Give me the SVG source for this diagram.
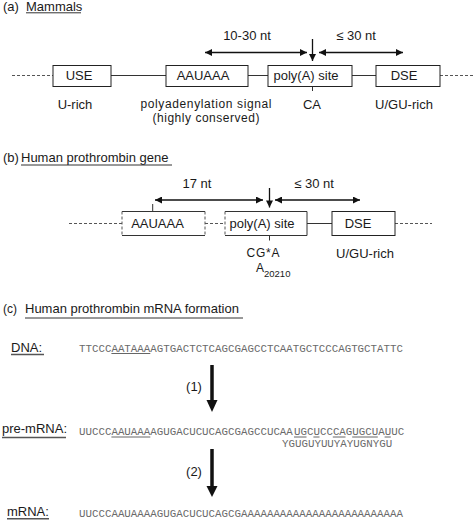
<svg xmlns="http://www.w3.org/2000/svg" width="474" height="520" viewBox="0 0 474 520">
<defs>
<marker id="ah" viewBox="0 0 10 10" refX="10" refY="5" markerWidth="8" markerHeight="7" markerUnits="userSpaceOnUse" orient="auto-start-reverse"><path d="M0,0 L10,5 L0,10 z" fill="#111"/></marker>
</defs>
<style>
.t{font-family:"Liberation Sans",Arial,sans-serif;font-size:13px;fill:#1a1a1a}
.s{font-size:12px}
.m{text-anchor:middle}
.sub{font-size:9.5px}
.seq{font-family:"Liberation Mono","Courier New",monospace;font-size:10.8px;fill:#6a6a6a}
.box{fill:#fff;stroke:#222;stroke-width:1}
.ln{stroke:#333;stroke-width:1;fill:none}
.dash{stroke:#555;stroke-width:1;stroke-dasharray:3,2;fill:none}
.ar{stroke:#111;stroke-width:1.3;fill:none;marker-end:url(#ah)}
.dbl{marker-start:url(#ah)}
.ul{stroke:#333;stroke-width:1}
.lul{stroke:#555;stroke-width:1.6}
.sul{stroke:#666;stroke-width:1}
.big{stroke:#111;stroke-width:3.5}
</style>
<rect width="474" height="520" fill="#fff"/>

<!-- Section (a) -->
<g id="titleA">
<text x="3" y="11" class="t">(a)</text>
<text x="26" y="11" class="t">Mammals</text>
<line x1="26" y1="12.8" x2="81" y2="12.8" class="ul"/>
</g>
<g id="connectorsA">
<line x1="12" y1="75.5" x2="53" y2="75.5" class="dash"/>
<line x1="111" y1="75.5" x2="166" y2="75.5" class="ln"/>
<line x1="248" y1="75.5" x2="268" y2="75.5" class="ln"/>
<line x1="352" y1="75.5" x2="376" y2="75.5" class="ln"/>
<line x1="440" y1="75.5" x2="474" y2="75.5" class="dash"/>
<line x1="205" y1="52.5" x2="307" y2="52.5" class="ar dbl"/>
<line x1="312.5" y1="39" x2="312.5" y2="61" class="ar"/>
<line x1="319" y1="52.5" x2="403" y2="52.5" class="ar dbl"/>
<line x1="312.5" y1="86.5" x2="312.5" y2="91" class="ln"/>
</g>
<g id="USE">
<rect x="53" y="65.5" width="58" height="21" class="box"/>
<text x="79" y="80" class="t m">USE</text>
<text x="75" y="108.5" class="t m">U-rich</text>
</g>
<g id="AAUAAA_a">
<rect x="166" y="65.5" width="82" height="21" class="box"/>
<text x="203" y="80" class="t m">AAUAAA</text>
<text x="206" y="108" class="t s m" textLength="131">polyadenylation signal</text>
<text x="206" y="122" class="t s m" textLength="107">(highly conserved)</text>
</g>
<g id="polyA_a">
<rect x="268" y="65.5" width="84" height="21" class="box"/>
<text x="306" y="80" class="t m">poly(A) site</text>
<text x="312" y="108.5" class="t m">CA</text>
</g>
<g id="DSE_a">
<rect x="376" y="65.5" width="64" height="21" class="box"/>
<text x="404" y="80" class="t m">DSE</text>
<text x="404" y="108.5" class="t m">U/GU-rich</text>
</g>
<g id="labelsA">
<text x="247" y="39.5" class="t m">10-30 nt</text>
<text x="356" y="39.5" class="t m">≤ 30 nt</text>
</g>

<!-- Section (b) -->
<g id="titleB">
<text x="3" y="162" class="t">(b)</text>
<text x="21" y="162" class="t">Human prothrombin gene</text>
<line x1="21" y1="165" x2="172" y2="165" class="ul"/>
</g>
<g id="connectorsB">
<line x1="69" y1="223.5" x2="122" y2="223.5" class="dash"/>
<line x1="205" y1="223.5" x2="225" y2="223.5" class="dash"/>
<line x1="307" y1="223.5" x2="332" y2="223.5" class="ln"/>
<line x1="395" y1="223.5" x2="432" y2="223.5" class="dash"/>
<line x1="152.7" y1="204" x2="152.7" y2="211.5" class="ln"/>
<line x1="155" y1="200" x2="263" y2="200" class="ar dbl"/>
<line x1="269.5" y1="188" x2="269.5" y2="207.5" class="ar"/>
<line x1="275" y1="200" x2="360" y2="200" class="ar dbl"/>
<line x1="269.5" y1="235.5" x2="269.5" y2="240.5" class="ln"/>
</g>
<g id="AAUAAA_b">
<rect x="122" y="211.5" width="83" height="24" fill="#fff"/>
<line x1="122" y1="211.5" x2="205" y2="211.5" class="ln"/>
<line x1="122" y1="235.5" x2="205" y2="235.5" class="ln"/>
<line x1="122" y1="211.5" x2="122" y2="235.5" class="dash"/>
<line x1="205" y1="211.5" x2="205" y2="235.5" class="dash"/>
<text x="157.5" y="228" class="t m">AAUAAA</text>
</g>
<g id="polyA_b">
<rect x="225" y="211.5" width="82" height="24" fill="#fff"/>
<path d="M225,211.5 H307 V235.5 H225" class="ln"/>
<line x1="225" y1="211.5" x2="225" y2="235.5" class="dash"/>
<text x="262" y="228" class="t m">poly(A) site</text>
<text x="263" y="257" class="t s m" textLength="33">CG*A</text>
<text x="256" y="271.5" class="t s">A<tspan class="sub" dy="5">20210</tspan></text>
</g>
<g id="DSE_b">
<rect x="332" y="211.5" width="63" height="24" class="box"/>
<text x="358" y="228" class="t m">DSE</text>
<text x="365" y="257.5" class="t m">U/GU-rich</text>
</g>
<g id="labelsB">
<text x="197" y="187.5" class="t m">17 nt</text>
<text x="314" y="187.5" class="t m">≤ 30 nt</text>
</g>

<!-- Section (c) -->
<g id="titleC">
<text x="3" y="313" class="t" style="font-size:12px">(c)</text>
<text x="25" y="313" class="t">Human prothrombin mRNA formation</text>
<line x1="25" y1="318" x2="243" y2="318" class="ul"/>
</g>
<g id="DNA">
<text x="11" y="352" class="t">DNA:</text>
<line x1="11" y1="354.5" x2="44" y2="354.5" class="lul"/>
<text x="79" y="351.5" class="seq">TTCCCAATAAAAGTGACTCTCAGCGAGCCTCAATGCTCCCAGTGCTATTC</text>
<line x1="111.4" y1="353.5" x2="150.3" y2="353.5" class="sul"/>
</g>
<g id="preMRNA">
<text x="2" y="433" class="t">pre-mRNA:</text>
<line x1="2" y1="437.5" x2="66" y2="437.5" class="lul"/>
<text x="79" y="435" class="seq">UUCCCAAUAAAAGUGACUCUCAGCGAGCCUCAA</text>
<text x="294" y="435" class="seq">UGCUCCCAGUGCUAUUC</text>
<line x1="111.4" y1="437" x2="150.3" y2="437" class="sul"/>
<line x1="294" y1="437" x2="306.5" y2="437" class="sul"/>
<line x1="313.4" y1="437" x2="319.5" y2="437" class="sul"/>
<line x1="332.8" y1="437" x2="345.5" y2="437" class="sul"/>
<line x1="352.2" y1="437" x2="377.8" y2="437" class="sul"/>
<line x1="384.6" y1="437" x2="390.8" y2="437" class="sul"/>
<text x="282" y="447" class="seq">YGUGUYUUYAYUGNYGU</text>
</g>
<g id="MRNA">
<text x="7" y="516" class="t">mRNA:</text>
<line x1="7" y1="518.8" x2="49" y2="518.8" class="lul"/>
<text x="79" y="516.5" class="seq">UUCCCAAUAAAAGUGACUCUCAGCGAAAAAAAAAAAAAAAAAAAAAAAAA</text>
</g>
<g id="connectorsC">
<line x1="212" y1="365" x2="212" y2="401" class="big"/>
<polygon points="206.5,400 217.5,400 212,412" fill="#111"/>
<text x="194" y="391" class="t m">(1)</text>
<line x1="212" y1="449" x2="212" y2="487" class="big"/>
<polygon points="206.5,486 217.5,486 212,497" fill="#111"/>
<text x="194" y="476" class="t m">(2)</text>
</g>
</svg>
